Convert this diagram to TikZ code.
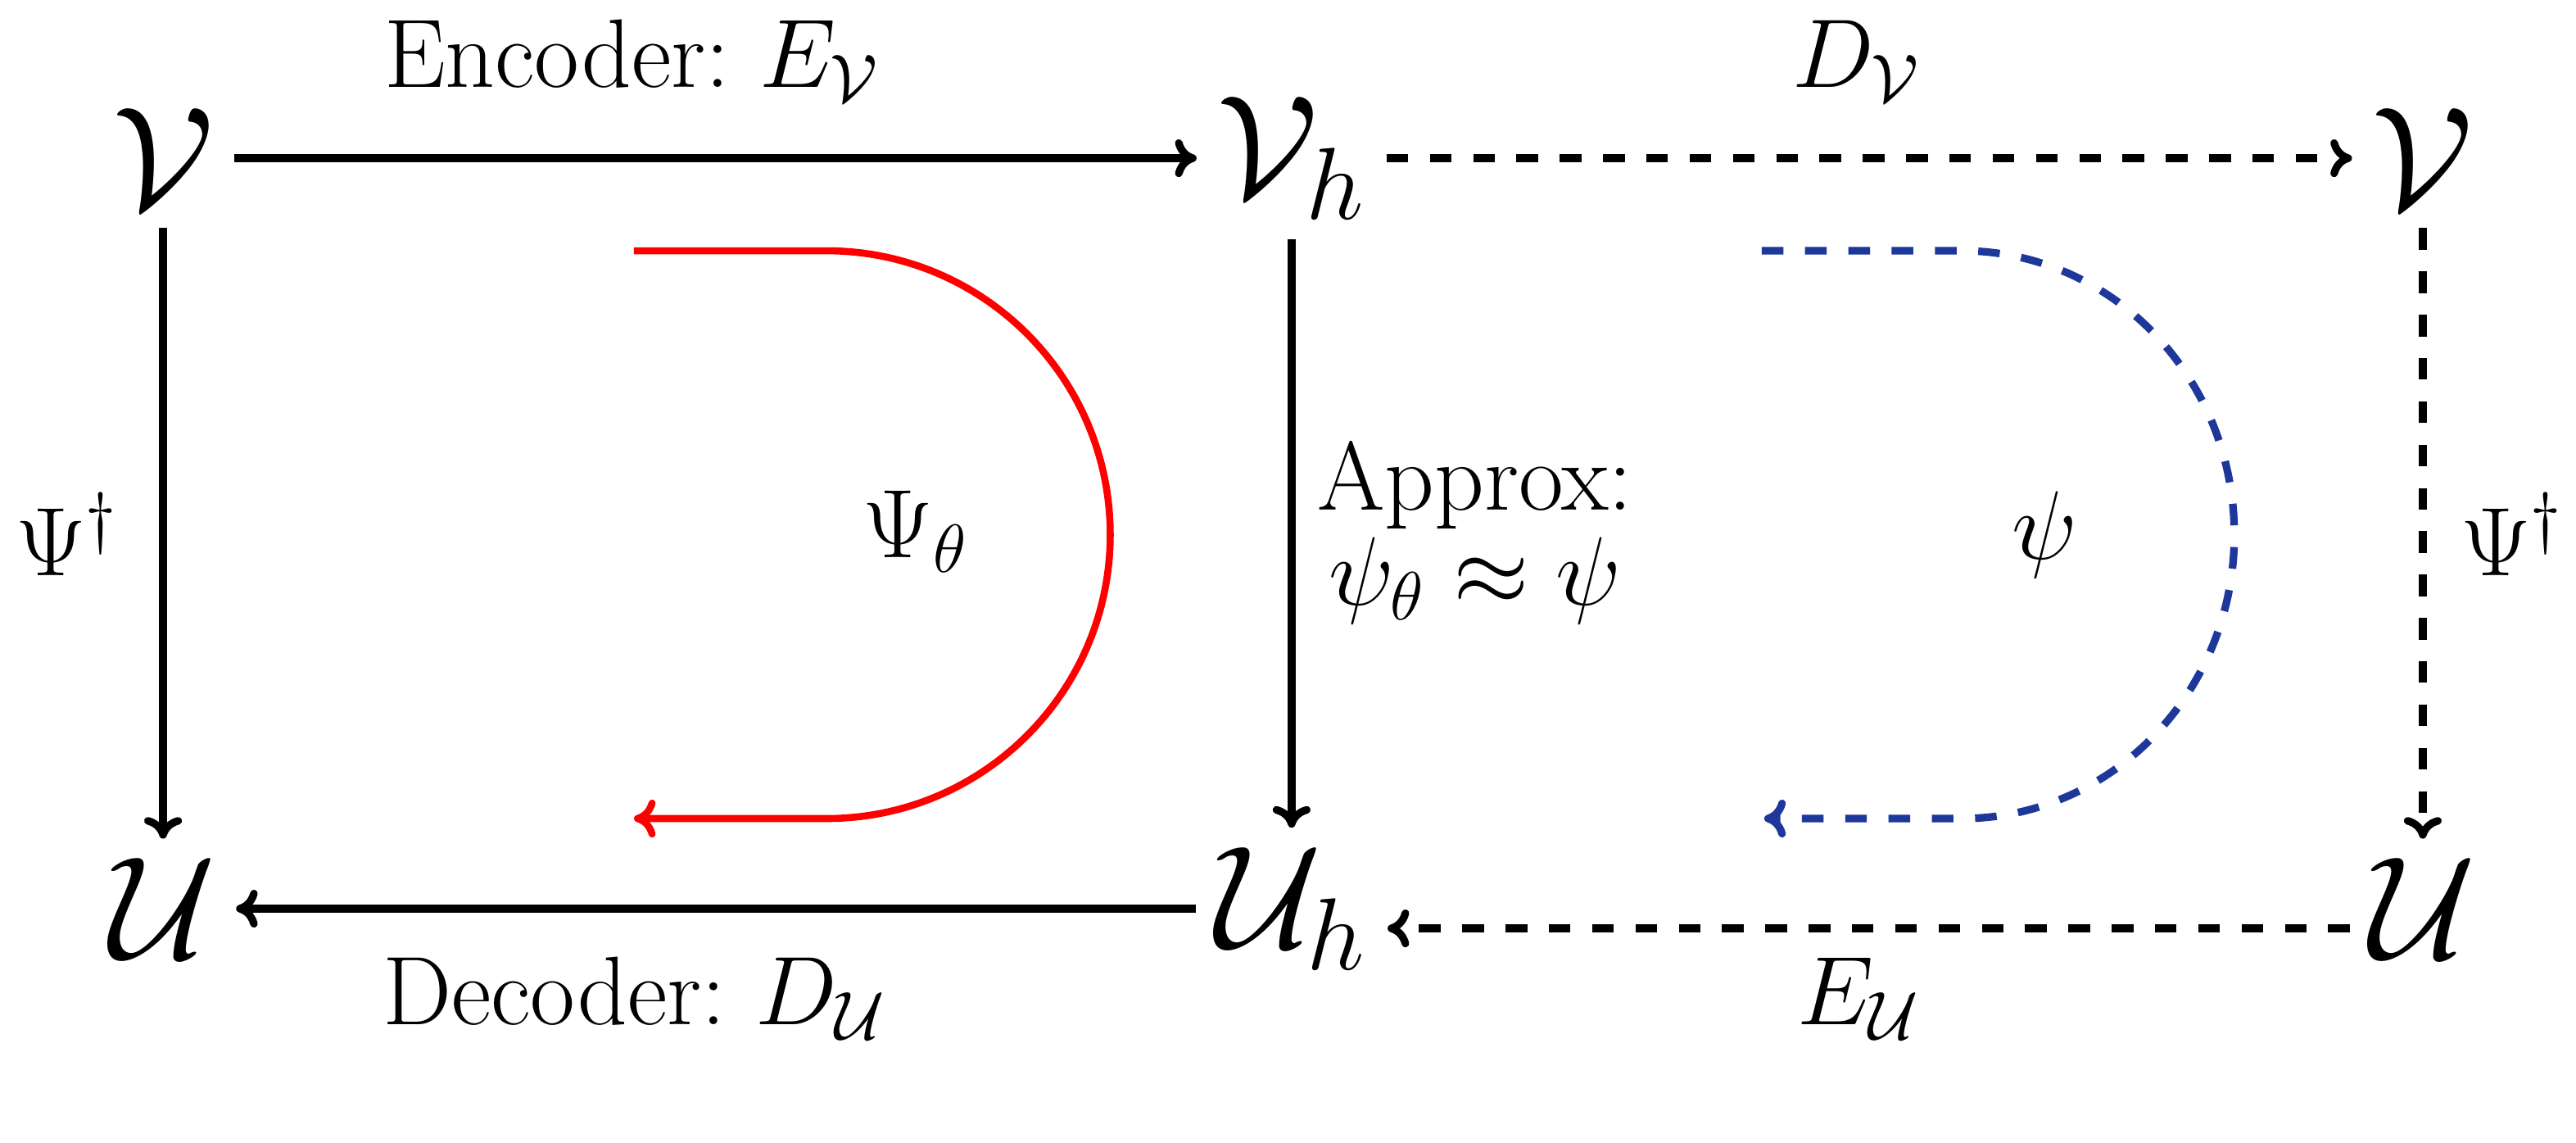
\RequirePackage{fix-cm}
\documentclass[tikz,border=0pt]{standalone}
\usepackage{amsmath,amssymb}
\usepackage{xcolor}
\usetikzlibrary{arrows.meta}
\definecolor{psiblue}{RGB}{30,55,155}
\tikzset{
  spc/.style    ={font=\fontsize{27}{32}\selectfont, inner sep=3.5pt},
  lbl/.style    ={font=\fontsize{18}{22}\selectfont\frenchspacing, inner sep=0pt},
  arr/.style    ={-{To[length=4pt,width=7pt]}, line width=1.4pt},
  darr/.style   ={arr, dash pattern=on 4pt off 4pt},
  redloop/.style={-{To[length=4pt,width=7pt]}, red, line width=1.3pt},
  blueloop/.style={-{To[length=4pt,width=7pt]}, psiblue, line width=1.4pt,
    dash pattern=on 4pt off 4pt}
}
\begin{document}
\begin{tikzpicture}
  \useasboundingbox (0,0) rectangle (16.729,-7.420);

    % ---------- spaces ----------
    \node[spc] (V)  at (1.059,-1.027)  {$\mathcal{V}$};
    \node[spc] (Vh) at (8.388,-1.027)  {$\mathcal{V}_h$};
    \node[spc] (Vr) at (15.734,-1.027) {$\mathcal{V}$};
    \node[spc] (U)  at (1.059,-5.899)  {$\mathcal{U}$};
    \node[spc] (Uh) at (8.388,-5.899)  {$\mathcal{U}_h$};
    \node[spc] (Ur) at (15.734,-5.899) {$\mathcal{U}$};

    \draw[arr] (V) -- (Vh);
    \draw[arr] (V) -- (U);
    \draw[arr] (Vh) -- (Uh);
    \draw[arr] (Uh) -- (U);
    \draw[darr] (Vh) -- (Vr);
    \draw[darr] (Vr) -- (Ur);
    \draw[darr] ([yshift=-0.128cm]Ur.west) -- ([yshift=-0.128cm]Uh.east);

    % ---------- arrow labels ----------
    \node[lbl, anchor=base] (enc) at (4.106,-0.569) {Encoder: $E_{\mathcal{V}}$};
    \node[lbl, anchor=base] (dv)  at (12.059,-0.569) {$D_{\mathcal{V}}$};
    \node[lbl, anchor=base] (dec) at (4.122,-6.654) {Decoder: $D_{\mathcal{U}}$};
    \node[lbl, anchor=base] (eu)  at (12.074,-6.654) {$E_{\mathcal{U}}$};
    \node[lbl, anchor=base] (psil) at (0.436,-3.739) {$\Psi^\dagger$};
    \node[lbl, anchor=base] (psir) at (16.314,-3.739) {$\Psi^\dagger$};
    \node[lbl, align=center, font=\fontsize{18}{17.5}\selectfont] (approx)
      at (9.58,-3.457) {Approx:\\$\psi_\theta \approx \psi$};

    % ---------- loops ----------
    \coordinate (rs) at (4.117,-1.628);
    \coordinate (re) at (4.117,-5.314);
    \draw[redloop] (rs) -- ++(1.25,0)
      arc[start angle=90, end angle=-90, radius=1.843] -- (re);
    \node[lbl, anchor=base] (psith) at (5.947,-3.622) {$\Psi_\theta$};

    \coordinate (bs) at (11.441,-1.628);
    \coordinate (be) at (11.457,-5.314);
    \draw[blueloop] (bs) -- ++(1.298,0)
      arc[start angle=90, end angle=-90, x radius=1.771, y radius=1.843] -- (be);
    \node[lbl, anchor=base] (psi) at (13.277,-3.633) {$\psi$};

\end{tikzpicture}
\end{document}
